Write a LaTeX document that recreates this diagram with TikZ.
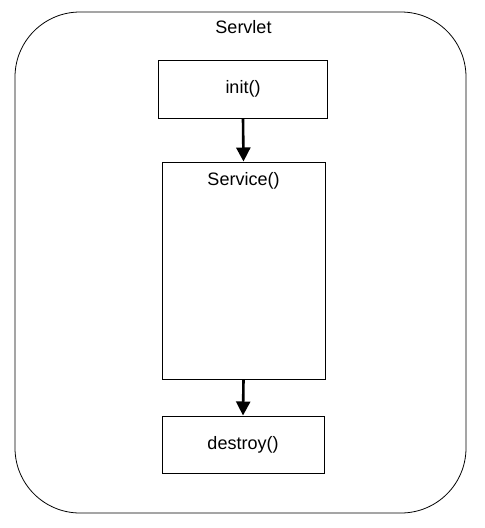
\documentclass[tikz,border=0pt]{standalone}
\usepackage{fontspec}
\setmainfont{Liberation Sans}
\usetikzlibrary{arrows.meta}

\begin{document}
\begin{tikzpicture}[x=1pt,y=-1pt]
  \tikzset{StepBox/.style={draw,line width=1pt,inner sep=0pt,font=\fontsize{18}{20}\selectfont},
           StepEdge/.style={-{Triangle[length=14pt,width=14pt]},line width=2.6pt}}
  \useasboundingbox (0,0) rectangle (485,528);

  % container
  \node[draw,line width=0.8pt,rounded corners=65pt,minimum width=451pt,minimum height=501pt,inner sep=0pt] (servlet) at (240.5,262.5) {};
  \node[font=\fontsize{18}{20}\selectfont] (servletlabel) at (243.5,27) {Servlet};

  % steps
  \node[StepBox,minimum width=169.5pt,minimum height=58pt] (init) at (243,89) {init()};
  \node[StepBox,minimum width=163pt,minimum height=217pt] (service) at (243.5,270.5) {};
  \node[font=\fontsize{18}{20}\selectfont] (servicelabel) at (243.5,181) {Service()};
  \node[StepBox,minimum width=162pt,minimum height=57pt] (destroy) at (243,444.5) {destroy()};

  % edges
  \draw[StepEdge] (init.south) -- (service.north);
  \draw[StepEdge] (service.south) -- (destroy.north);
\end{tikzpicture}
\end{document}
